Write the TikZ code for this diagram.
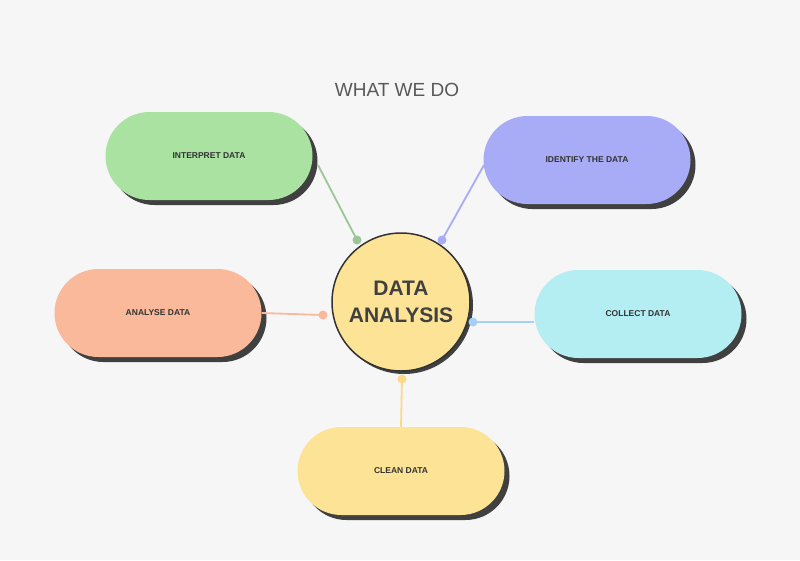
\documentclass[tikz,border=0pt]{standalone}
\usepackage{fontspec}
\setmainfont{Liberation Sans}
\usetikzlibrary{shapes,positioning,shadows}

\definecolor{bgcol}{HTML}{F7F6F7}
\definecolor{greencol}{HTML}{A9E2A1}
\definecolor{bluecol}{HTML}{A8ACF6}
\definecolor{orangecol}{HTML}{F9B99A}
\definecolor{cyancol}{HTML}{B4EEF3}
\definecolor{yellowcol}{HTML}{FCE395}
\definecolor{textcol}{HTML}{333333}

\begin{document}
\begin{tikzpicture}[
    x=1pt, y=-1pt,
    pill/.style={rectangle, rounded corners=44pt, minimum width=207pt, minimum height=88pt, align=center,
        font=\bfseries\fontsize{8.5}{10}\selectfont, text=textcol,
        drop shadow={shadow xshift=5pt, shadow yshift=-5pt, opacity=1, fill=black!75}},
    hub/.style={circle, draw=black!80, line width=1.5pt, minimum size=138pt, fill=yellowcol, align=center,
        font=\bfseries\fontsize{21}{27}\selectfont, text=black!75,
        drop shadow={shadow xshift=3pt, shadow yshift=-3pt, opacity=1, fill=black!75}},
    link/.style={line width=1.8pt},
    dot/.style={circle, fill, inner sep=0pt, minimum size=9pt}
]
\fill[bgcol] (0,0) rectangle (800,560);
\useasboundingbox (0,0) rectangle (800,560);
% Title
\node[text=black!65, font=\fontsize{19}{22}\selectfont] (title) at (397,90) {WHAT WE DO};
% Centre and surrounding steps
\node[hub] (hub) at (401,302) {DATA\\ANALYSIS};
\node[pill, fill=greencol] (interpret) at (209,156) {INTERPRET DATA};
\node[pill, fill=bluecol] (identify) at (587,160) {IDENTIFY THE DATA};
\node[pill, fill=orangecol] (analyse) at (158,313) {ANALYSE DATA};
\node[pill, fill=cyancol] (collect) at (638,314) {COLLECT DATA};
\node[pill, fill=yellowcol] (clean) at (401,471) {CLEAN DATA};
% Connectors
\coordinate (cInterpret) at (357,240);
\coordinate (cIdentify) at (442,240);
\coordinate (cAnalyse) at (323,315);
\coordinate (cCollect) at (473,322);
\coordinate (cClean) at (402,379);
\draw[link, greencol!85!black!90] (318,165) -- (cInterpret);
\draw[link, bluecol] (484,165) -- (cIdentify);
\draw[link, orangecol] (analyse.east) -- (cAnalyse);
\draw[link, cyancol!85!blue!90] (collect.west |- cCollect) -- (cCollect);
\draw[link, yellowcol!90!orange] (clean.north) -- (cClean);
\node[dot, greencol!85!black!90] at (cInterpret) {};
\node[dot, bluecol] at (cIdentify) {};
\node[dot, orangecol] at (cAnalyse) {};
\node[dot, cyancol!85!blue!90] at (cCollect) {};
\node[dot, yellowcol!90!orange] at (cClean) {};
\end{tikzpicture}
\end{document}
